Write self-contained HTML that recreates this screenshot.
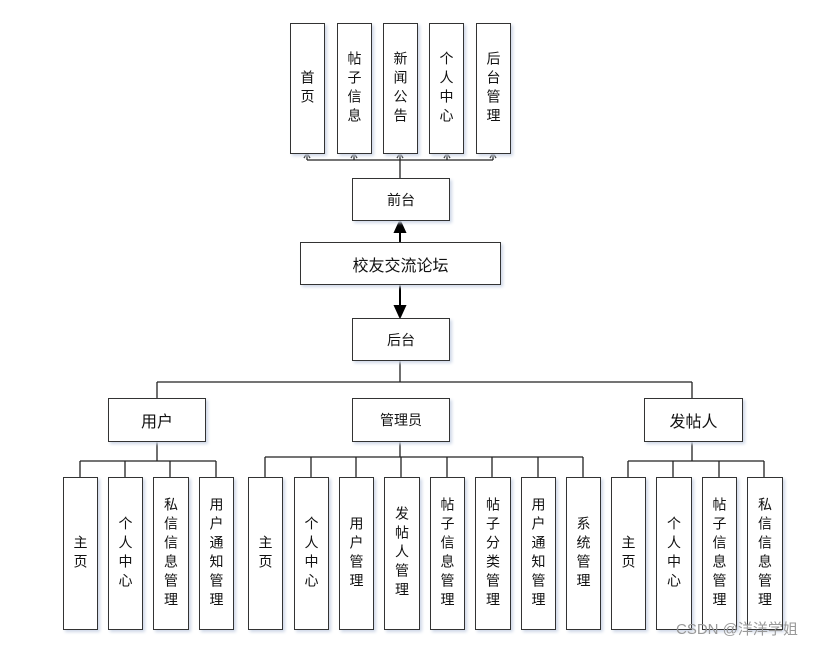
<!DOCTYPE html>
<html><head><meta charset="utf-8"><style>
body{margin:0;background:#fff;width:828px;height:645px;position:relative;overflow:hidden;font-family:"Liberation Sans","Noto Sans CJK SC",sans-serif;}
.b{position:absolute;border:1.5px solid #333;box-sizing:border-box;background:#fff;display:flex;align-items:center;justify-content:center;font-size:14px;color:#111;box-shadow:2px 2px 3px #cfd8e8;}
.v{writing-mode:vertical-rl;text-orientation:upright;letter-spacing:5px;}
.h{font-size:16px;}
svg{position:absolute;left:0;top:0;}
</style></head><body>
<svg width="828" height="645">
<g stroke="#222" stroke-width="1.3" fill="none">
<path d="M400 178V160M307 160H493M307 160V153M354 160V153M400 160V153M447 160V153M493 160V153"/>
<path d="M304 158l3-5 3 5M351 158l3-5 3 5M397 158l3-5 3 5M444 158l3-5 3 5M490 158l3-5 3 5"/>
<path d="M400 361V382M157 382H692M157 382V398M692 382V398"/>
<path d="M157 441V461M80 461H216M80 461V477M125 461V477M170 461V477M216 461V477"/>
<path d="M400 441V457M265 457H583M265 457V477M311 457V477M356 457V477M401 457V477M447 457V477M492 457V477M538 457V477M583 457V477"/>
<path d="M692 441V461M628 461H764M628 461V477M673 461V477M719 461V477M764 461V477"/>
</g>
<g stroke="#000" stroke-width="2" fill="#000">
<path d="M400 242V228"/><path d="M395 232l5-11 5 11z"/>
<path d="M400 284V308"/><path d="M395 306l5 11 5-11z"/>
</g>
</svg>
<div class="b v" style="left:290px;top:23px;width:35px;height:131px">首页</div>
<div class="b v" style="left:337px;top:23px;width:35px;height:131px">帖子信息</div>
<div class="b v" style="left:383px;top:23px;width:35px;height:131px">新闻公告</div>
<div class="b v" style="left:429px;top:23px;width:35px;height:131px">个人中心</div>
<div class="b v" style="left:476px;top:23px;width:35px;height:131px">后台管理</div>
<div class="b" style="left:352px;top:178px;width:98px;height:43px">前台</div>
<div class="b h" style="left:300px;top:242px;width:201px;height:43px">校友交流论坛</div>
<div class="b" style="left:352px;top:318px;width:98px;height:43px">后台</div>
<div class="b h" style="left:108px;top:398px;width:98px;height:44px">用户</div>
<div class="b" style="left:352px;top:398px;width:98px;height:44px">管理员</div>
<div class="b h" style="left:644px;top:398px;width:99px;height:44px">发帖人</div>
<div class="b v" style="left:63px;top:477px;width:35px;height:153px">主页</div>
<div class="b v" style="left:108px;top:477px;width:35px;height:153px">个人中心</div>
<div class="b v" style="left:153px;top:477px;width:36px;height:153px">私信信息管理</div>
<div class="b v" style="left:199px;top:477px;width:35px;height:153px">用户通知管理</div>
<div class="b v" style="left:248px;top:477px;width:35px;height:153px">主页</div>
<div class="b v" style="left:294px;top:477px;width:35px;height:153px">个人中心</div>
<div class="b v" style="left:339px;top:477px;width:35px;height:153px">用户管理</div>
<div class="b v" style="left:384px;top:477px;width:36px;height:153px">发帖人管理</div>
<div class="b v" style="left:430px;top:477px;width:35px;height:153px">帖子信息管理</div>
<div class="b v" style="left:475px;top:477px;width:36px;height:153px">帖子分类管理</div>
<div class="b v" style="left:521px;top:477px;width:35px;height:153px">用户通知管理</div>
<div class="b v" style="left:566px;top:477px;width:35px;height:153px">系统管理</div>
<div class="b v" style="left:611px;top:477px;width:35px;height:153px">主页</div>
<div class="b v" style="left:656px;top:477px;width:36px;height:153px">个人中心</div>
<div class="b v" style="left:702px;top:477px;width:35px;height:153px">帖子信息管理</div>
<div class="b v" style="left:747px;top:477px;width:36px;height:153px">私信信息管理</div>
<div style="position:absolute;left:676px;top:618px;font-size:15px;color:#999;">CSDN @洋洋学姐</div>
</body></html>
